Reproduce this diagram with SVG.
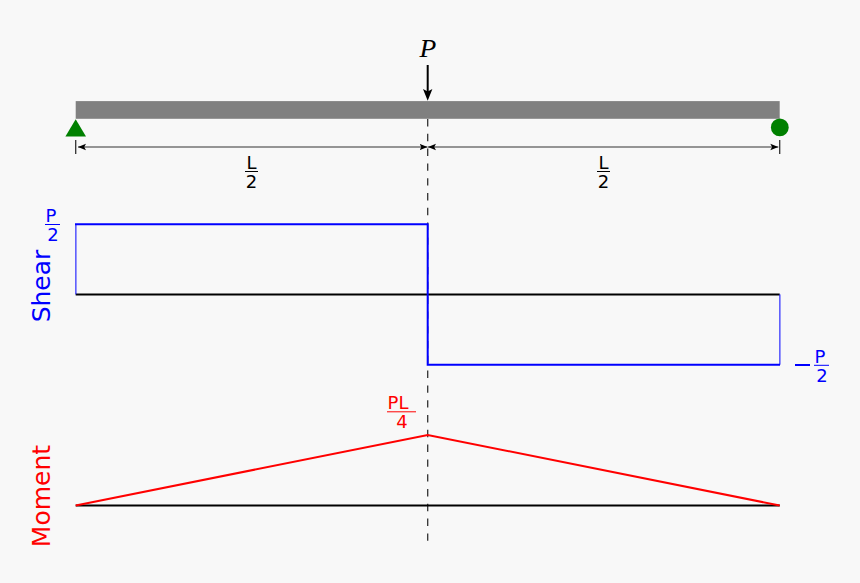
<svg xmlns="http://www.w3.org/2000/svg" width="860" height="583" viewBox="0 0 860 583">
<style>
text{font-family:"DejaVu Sans",sans-serif}
.frac{font-size:18px;text-anchor:middle}
.axis{font-size:25px;text-anchor:middle}
.blue{fill:#0000ff}
.red{fill:#ff0000}
.blk{fill:#000}
.base{stroke:#000;stroke-width:2;fill:none}
.dim{stroke:#333;stroke-width:1.2;fill:none;marker-start:url(#tipS);marker-end:url(#tipE)}
.tick{stroke:#333;stroke-width:1.3;fill:none}
</style>
<defs>
<marker id="tipE" markerUnits="userSpaceOnUse" markerWidth="9" markerHeight="8" refX="8" refY="4" orient="auto"><path d="M0,0.700L8,4L0,7.300L1.800,4Z" fill="#000"/></marker>
<marker id="tipS" markerUnits="userSpaceOnUse" markerWidth="9" markerHeight="8" refX="0" refY="4" orient="auto"><path d="M8,0.700L0,4L8,7.300L6.200,4Z" fill="#000"/></marker>
</defs>
<rect width="860" height="583" fill="#f8f8f8"/>
<g id="connectors">
<path d="M427.700 119V541" stroke="#333" stroke-width="1.300" stroke-dasharray="7.400 7.400" fill="none"/>
<path class="tick" d="M75.700 140V154M779.700 140V154"/>
<path class="dim" d="M78 147H427.500"/>
<path class="dim" d="M428 147H778.300"/>
<path d="M427.700 65V92" stroke="#000" stroke-width="2" fill="none"/>
<path d="M427.700 100.700L423 89L427.700 91.500L432.400 89Z" fill="#000"/>
</g>
<g id="beam"><rect x="75.700" y="101.100" width="704" height="17.700" fill="#808080"/></g>
<g id="pin-support"><path d="M75.700 119.300L86 136.600H65.400Z" fill="#008000"/></g>
<g id="roller-support"><circle cx="779.800" cy="127.400" r="8.900" fill="#008000"/></g>
<g id="load-label"><text transform="translate(428 57.300) scale(1.1 1)" font-size="25" text-anchor="middle" style="font-family:'Liberation Serif',serif;font-style:italic">P</text></g>
<g id="span-left"><text class="frac blk" x="251.500" y="169">L</text><path d="M245 171.500H258" stroke="#000" stroke-width="1"/><text class="frac blk" x="251.500" y="188">2</text></g>
<g id="span-right"><text class="frac blk" x="603.500" y="169">L</text><path d="M597 171.500H610" stroke="#000" stroke-width="1"/><text class="frac blk" x="603.500" y="188">2</text></g>
<g id="shear-diagram">
<path class="base" d="M75.700 294.400H779.700"/>
<path d="M75.900 294.400V224.300M779.900 294.400V364.700" stroke="#0000ff" stroke-width="1" fill="none"/>
<path d="M75 224.300H427.700V364.700H780" stroke="#0000ff" stroke-width="2" fill="none"/>
</g>
<g id="shear-label"><text class="axis blue" transform="translate(50.200 286) rotate(-90)">Shear</text></g>
<g id="shear-max"><text class="frac blue" x="51" y="222.300">P</text><path d="M45 224.500H60" stroke="#0000ff" stroke-width="1"/><text class="frac blue" x="53" y="241.300">2</text></g>
<g id="shear-min"><path d="M795 365H810" stroke="#0000ff" stroke-width="2"/><text class="frac blue" x="820" y="362.500">P</text><path d="M814 365.300H829" stroke="#0000ff" stroke-width="1"/><text class="frac blue" x="822" y="381.500">2</text></g>
<g id="moment-diagram">
<path class="base" d="M75.700 505.500H779.700"/>
<path d="M75.700 505.500L427.700 435L779.700 505.500" stroke="#ff0000" stroke-width="2" fill="none"/>
</g>
<g id="moment-label"><text class="axis red" transform="translate(50.200 496) rotate(-90)">Moment</text></g>
<g id="moment-peak"><text class="frac red" x="398" y="409.300">PL</text><path d="M387 411.800H416" stroke="#ff0000" stroke-width="1"/><text class="frac red" x="402" y="428.300">4</text></g>
</svg>
